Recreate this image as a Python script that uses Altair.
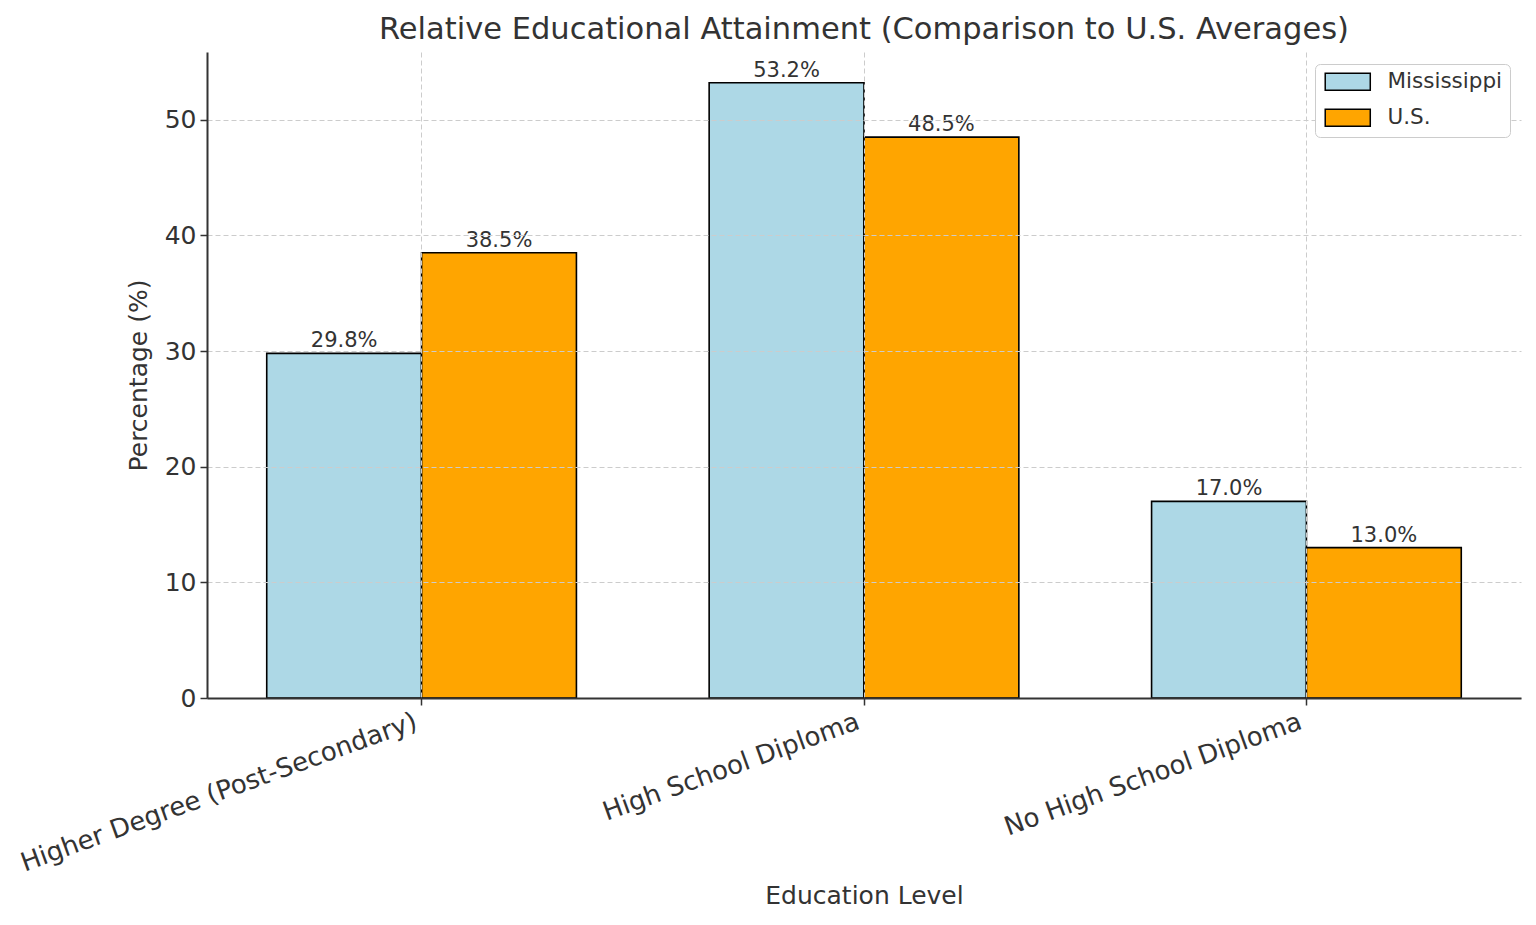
import altair as alt
import pandas as pd

categories = ["Higher Degree (Post-Secondary)", "High School Diploma", "No High School Diploma"]
series = ["Mississippi", "U.S."]
mississippi = [29.8, 53.2, 17.0]
us = [38.5, 48.5, 13.0]
colors = ["#ADD8E6", "#FFA500"]

rows = []
for c, m, u in zip(categories, mississippi, us):
    rows.append({"level": c, "group": "Mississippi", "value": m})
    rows.append({"level": c, "group": "U.S.", "value": u})
df = pd.DataFrame(rows)

FONT = "DejaVu Sans"
TXT = "#333333"

x_enc = alt.X(
    "level:N",
    sort=categories,
    title="Education Level",
    scale=alt.Scale(paddingInner=0.3, paddingOuter=0.135),
    axis=alt.Axis(
        labelAngle=-20,
        labelAlign="right",
        labelBaseline="top",
        labelFontSize=26,
        labelColor=TXT,
        labelPadding=3,
        labelOffset=-10,
        labelLimit=0,
        titleFontSize=25,
        titleColor=TXT,
        titleFontWeight="normal",
        titlePadding=8,
        bandPosition=0.5,
        grid=True,
        gridColor="#cccccc",
        gridDash=[5, 3],
        gridWidth=1,
        tickSize=7,
        tickColor="#333333",
        tickWidth=1.5,
        domainColor="#333333",
        domainWidth=2,
        zindex=1,
    ),
)
xoff = alt.XOffset("group:N", sort=series, scale=alt.Scale(domain=series, paddingInner=0, paddingOuter=0))
y_enc = alt.Y(
    "value:Q",
    title="Percentage (%)",
    scale=alt.Scale(domain=[0, 55.86], nice=False, zero=True),
    axis=alt.Axis(
        values=[0, 10, 20, 30, 40, 50],
        labelFontSize=25,
        labelColor=TXT,
        labelPadding=4,
        titleFontSize=25,
        titleColor=TXT,
        titleFontWeight="normal",
        titlePadding=13,
        grid=True,
        gridColor="#cccccc",
        gridDash=[5, 3],
        gridWidth=1,
        tickSize=7,
        tickColor="#333333",
        tickWidth=1.5,
        domainColor="#333333",
        domainWidth=2,
        zindex=1,
    ),
)

bars = alt.Chart(df).mark_bar(stroke="black", strokeWidth=1.6).encode(
    x=x_enc,
    xOffset=xoff,
    y=y_enc,
    color=alt.Color(
        "group:N",
        scale=alt.Scale(domain=series, range=colors),
        legend=alt.Legend(
            title=None,
            orient="none",
            legendX=1108,
            legendY=12,
            symbolType="M-2.65,-1L2.65,-1L2.65,1L-2.65,1Z",
            symbolSize=289,
            symbolOffset=15,
            symbolStrokeColor="black",
            symbolStrokeWidth=1.5,
            symbolOpacity=1,
            labelFontSize=21.5,
            labelColor=TXT,
            labelOffset=29,
            rowPadding=12,
            padding=7,
            fillColor="white",
            strokeColor="#cccccc",
            cornerRadius=5,
            zindex=3,
        ),
    ),
)

labels = alt.Chart(df).transform_calculate(
    label="format(datum.value, '.1f') + '%'"
).mark_text(
    baseline="alphabetic", dy=-6, fontSize=21, color=TXT, font=FONT
).encode(
    x=alt.X("level:N", sort=categories),
    xOffset=xoff,
    y="value:Q",
    text="label:N",
)

chart = alt.layer(bars, labels).properties(
    width=1314,
    height=646,
    title=alt.TitleParams(
        "Relative Educational Attainment (Comparison to U.S. Averages)",
        fontSize=30.5,
        fontWeight="normal",
        color=TXT,
        anchor="middle",
        baseline="alphabetic",
        offset=-17,
    ),
    autosize=alt.AutoSizeParams(type="none"),
    padding={"left": 199, "top": 44, "right": 7, "bottom": 215},
).configure(font=FONT).configure_view(stroke=None)

chart.save("out.html", embed_options={"renderer": "svg", "actions": False})
